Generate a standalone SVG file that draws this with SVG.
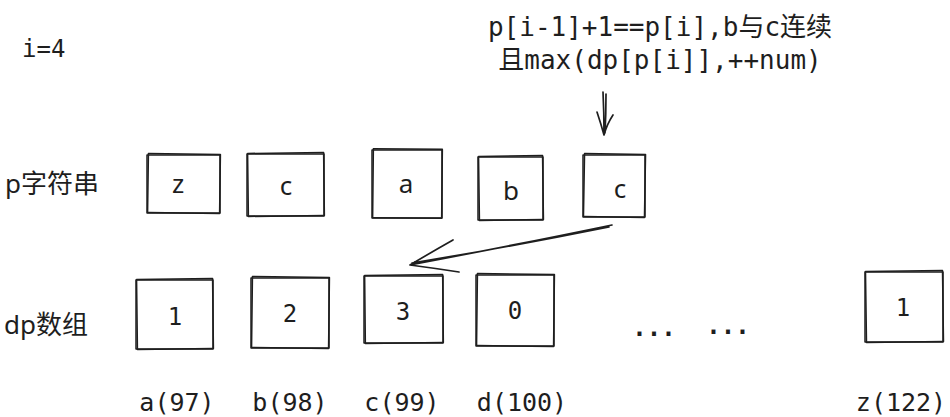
<svg xmlns="http://www.w3.org/2000/svg" width="950" height="417" viewBox="0 0 950 417">
<style>
.bx{fill:none;stroke:#1e1e1e;stroke-width:1.5;stroke-linecap:round;stroke-linejoin:round}
.ln{fill:none;stroke:#1e1e1e;stroke-width:1.7;stroke-linecap:round;stroke-linejoin:round}
.mono{font-family:"DejaVu Sans Mono","Liberation Mono","Noto Sans CJK SC",monospace;fill:#1e1e1e}
.sans{font-family:"Noto Sans","Noto Sans CJK SC",sans-serif;fill:#1e1e1e}
.lt{font-size:26px;text-anchor:middle}
.dt{font-size:24px;text-anchor:middle}
</style>
<rect width="950" height="417" fill="#ffffff"/>
<g id="labels">
<text class="mono" x="22" y="57" font-size="24">i=4</text>
<text class="sans" x="5" y="193" font-size="26">p字符串</text>
<text class="sans" x="4" y="334" font-size="26">dp数组</text>
<text class="mono" x="660" y="36" font-size="26" text-anchor="middle">p[i-1]+1==p[i],b与c连续</text>
<text class="mono" x="660" y="69" font-size="26" text-anchor="middle">且max(dp[p[i]],++num)</text>
<text class="mono" x="654" y="336" font-size="24" font-weight="bold" text-anchor="middle">...</text>
<text class="mono" x="728" y="334" font-size="24" font-weight="bold" text-anchor="middle">...</text>
</g>
<g id="p0"><rect class="bx" x="147" y="155" width="73" height="58"/><rect class="bx" x="148" y="154" width="72" height="59" transform="rotate(0.8 184 184)"/><text class="sans lt" x="178" y="193">z</text></g>
<g id="p1"><rect class="bx" x="247" y="154" width="77" height="62"/><rect class="bx" x="248" y="153" width="76" height="63" transform="rotate(-0.7 285 185)"/><text class="sans lt" x="286" y="195">c</text></g>
<g id="p2"><rect class="bx" x="372" y="150" width="70" height="68"/><rect class="bx" x="373" y="149" width="69" height="69" transform="rotate(0.6 407 184)"/><text class="sans lt" x="406" y="193">a</text></g>
<g id="p3"><rect class="bx" x="478" y="157" width="65" height="63"/><rect class="bx" x="479" y="156" width="64" height="64" transform="rotate(-0.8 510 188)"/><text class="sans lt" x="511" y="200">b</text></g>
<g id="p4"><rect class="bx" x="583" y="155" width="62" height="62"/><rect class="bx" x="584" y="154" width="61" height="63" transform="rotate(1 614 186)"/><text class="sans lt" x="620" y="198">c</text></g>
<g id="d0"><rect class="bx" x="136" y="280" width="77" height="69"/><rect class="bx" x="137" y="279" width="76" height="70" transform="rotate(-0.7 175 314)"/><text class="mono dt" x="175" y="325">1</text></g>
<g id="d1"><rect class="bx" x="251" y="278" width="78" height="70"/><rect class="bx" x="252" y="277" width="77" height="71" transform="rotate(0.7 290 313)"/><text class="mono dt" x="290" y="322">2</text></g>
<g id="d2"><rect class="bx" x="364" y="276" width="79" height="67"/><rect class="bx" x="365" y="275" width="78" height="68" transform="rotate(-0.6 403 309)"/><text class="mono dt" x="403" y="320">3</text></g>
<g id="d3"><rect class="bx" x="476" y="275" width="78" height="71"/><rect class="bx" x="477" y="274" width="77" height="72" transform="rotate(0.7 515 310)"/><text class="mono dt" x="515" y="319">0</text></g>
<g id="d25"><rect class="bx" x="865" y="272" width="78" height="70"/><rect class="bx" x="866" y="271" width="77" height="71" transform="rotate(-0.8 904 307)"/><text class="mono dt" x="903" y="316">1</text></g>
<g id="idx" class="mono" font-size="25" text-anchor="middle">
<text x="177" y="411">a(97)</text>
<text x="290" y="411">b(98)</text>
<text x="402" y="411">c(99)</text>
<text x="522" y="411">d(100)</text>
<text x="901" y="411">z(122)</text>
</g>
<g id="connectors">
<path class="ln" d="M603 92 Q604 112 604 135 M606 94 Q606 114 605 133 M597 112 Q601 124 604 135 Q607 124 613 115"/>
<path class="ln" d="M612 225 Q520 244 410 265 M609 227 Q515 246 412 263 M453 240 Q430 253 410 265 Q433 268 459 272"/>
</g>
</svg>
